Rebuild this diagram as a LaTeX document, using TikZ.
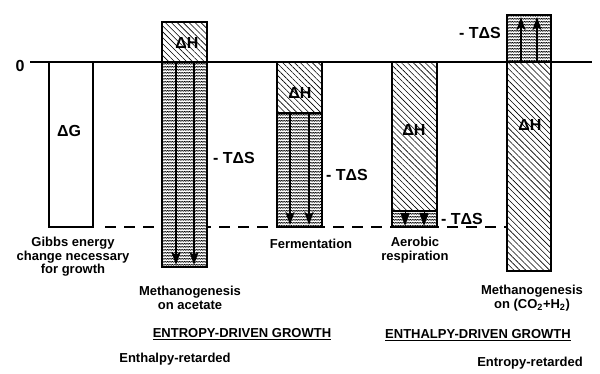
\documentclass[tikz,border=0pt]{standalone}
\usepackage{fontspec}
\setmainfont{Liberation Sans}
\usetikzlibrary{patterns,patterns.meta,arrows.meta}

\pgfdeclarepatternformonly{zigzag}{\pgfqpoint{-1pt}{-1pt}}{\pgfqpoint{4.4pt}{4pt}}{\pgfqpoint{3.4pt}{3pt}}{%
  \pgfsetlinewidth{0.45pt}
  \pgfpathmoveto{\pgfqpoint{0pt}{0.6pt}}
  \pgfpathlineto{\pgfqpoint{0.85pt}{1.8pt}}
  \pgfpathlineto{\pgfqpoint{1.7pt}{0.6pt}}
  \pgfpathlineto{\pgfqpoint{2.55pt}{1.8pt}}
  \pgfpathlineto{\pgfqpoint{3.4pt}{0.6pt}}
  \pgfusepath{stroke}}

\begin{document}
\begin{tikzpicture}[
    x = 1pt, y = -1pt,
    bar/.style = {draw, line width = 2pt},
    hatch/.style = {bar, preaction = {fill = white},
      pattern = {Lines[angle = -45, distance = 4.2pt, line width = 0.6pt]}},
    wave/.style = {bar, preaction = {fill = white}, pattern = zigzag},
    axis/.style = {line width = 2pt},
    level/.style = {line width = 1.3pt, dash pattern = on 11pt off 8pt},
    arr/.style = {line width = 2pt, -{Stealth[length = 13pt, width = 9pt, inset = 3pt]}},
    tip/.style = {line width = 1pt, -{Triangle[length = 13pt, width = 9pt]}},
    lbl/.style = {font = \bfseries\fontsize{13}{13.5}\selectfont, align = center, inner sep = 0pt},
    big/.style = {font = \bfseries\fontsize{16}{16}\selectfont, inner sep = 0pt},
  ]
  \useasboundingbox (0,0) rectangle (600,374);

  % level needed for growth
  \draw[level] (105,227) -- (507,227);

  % Gibbs energy
  \draw[bar] (49,62) rectangle (93,227);
  % methanogenesis on acetate
  \draw[hatch] (162,22) rectangle (207,62);
  \draw[wave] (162,62) rectangle (207,267);
  % fermentation
  \draw[hatch] (277,62) rectangle (322,113);
  \draw[wave] (277,113) rectangle (322,227);
  % aerobic respiration
  \draw[hatch] (392,62) rectangle (437,211);
  \draw[wave] (392,211) rectangle (437,227);
  % methanogenesis on CO2+H2
  \draw[wave] (507,15) rectangle (551,62);
  \draw[hatch] (507,62) rectangle (551,271);

  \draw[axis] (30,62) -- (592,62);

  \foreach \x in {176,194} \draw[arr] (\x,62) -- (\x,265);
  \foreach \x in {290,309} \draw[arr] (\x,113) -- (\x,225);
  \foreach \x in {405,424} \draw[tip] (\x,212) -- (\x,226);
  \foreach \x in {521,537} \draw[arr] (\x,62) -- (\x,17);

  \node[big] (zero) at (20,66) {0};
  \node[big] (dG) at (69,131) {ΔG};
  \node[big] (dHac) at (187,43) {ΔH};
  \node[big] (dHfe) at (300,93) {ΔH};
  \node[big] (dHae) at (414,130) {ΔH};
  \node[big] (dHco) at (530,125) {ΔH};
  \node[big] (dSac) at (234,158) {- TΔS};
  \node[big] (dSfe) at (347,175) {- TΔS};
  \node[big] (dSae) at (462,219) {- TΔS};
  \node[big] (dSco) at (480,33) {- TΔS};

  \node[lbl] (gibbs) at (73,257) {Gibbs energy\\change necessary\\for growth};
  \node[lbl] (acetate) at (190,298) {Methanogenesis\\on acetate};
  \node[lbl] (ferm) at (311,244) {Fermentation};
  \node[lbl] (aerob) at (415,250) {Aerobic\\respiration};
  \node[lbl] (hydro) at (532,298) {Methanogenesis\\on (CO\textsubscript{2}+H\textsubscript{2})};
  \node[lbl] (entropy) at (242,334) {\underline{ENTROPY-DRIVEN GROWTH}};
  \node[lbl] (enthret) at (175,359) {Enthalpy-retarded};
  \node[lbl] (enthalpy) at (478,335) {\underline{ENTHALPY-DRIVEN GROWTH}};
  \node[lbl] (entrret) at (530,363) {Entropy-retarded};
\end{tikzpicture}
\end{document}
